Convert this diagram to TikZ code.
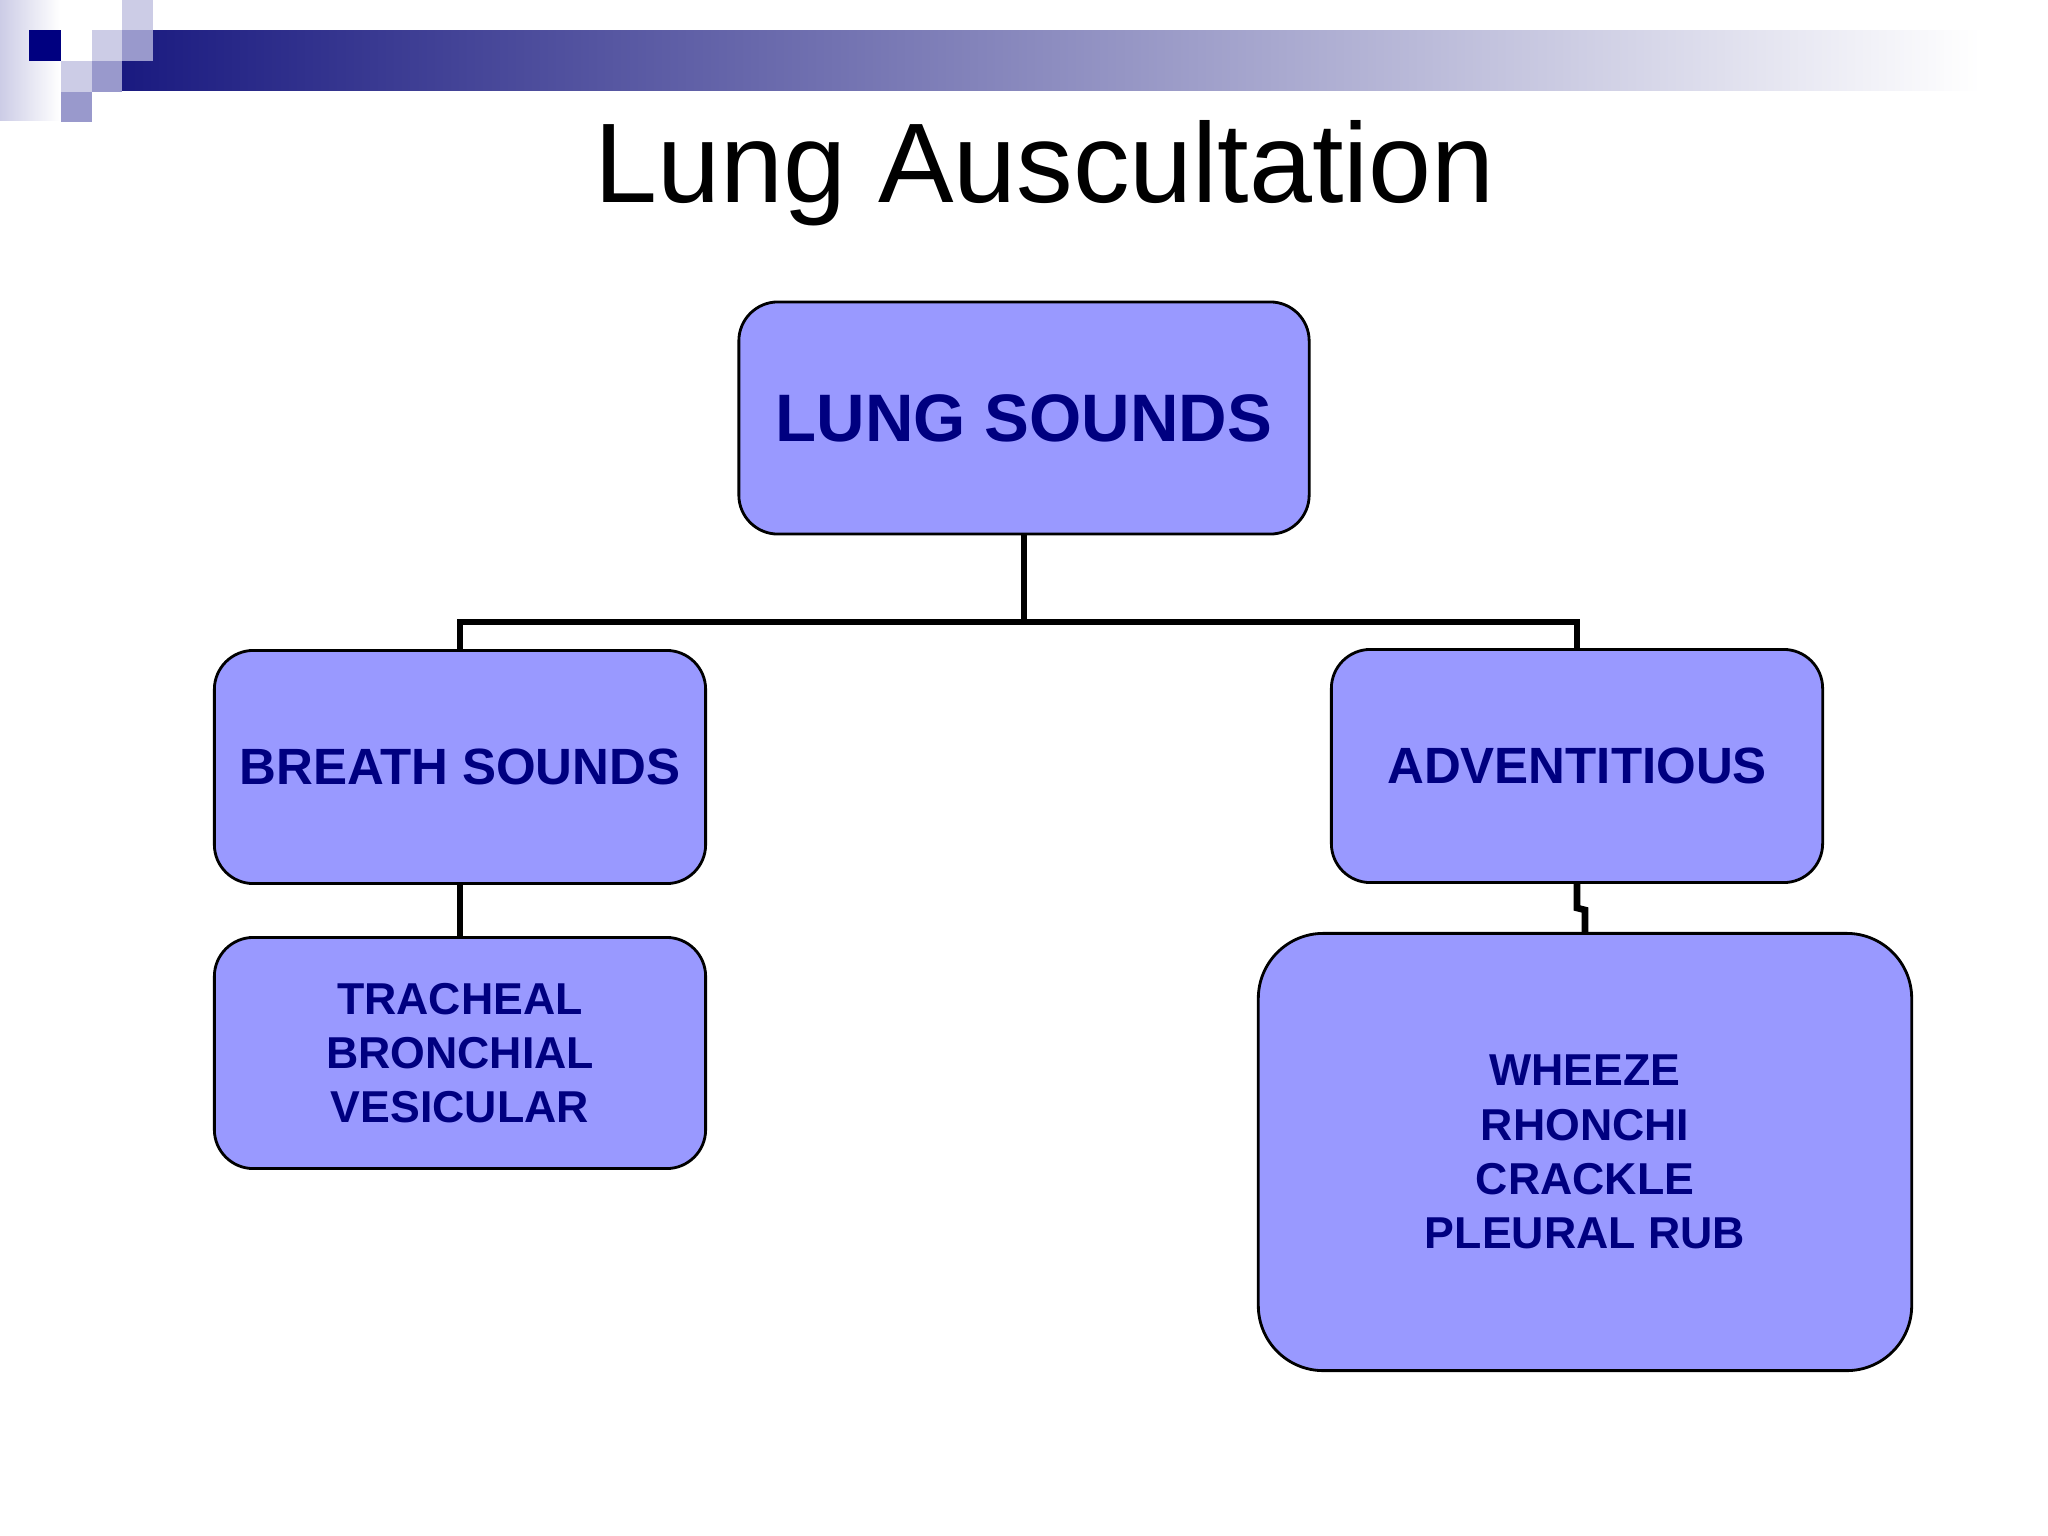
\documentclass[tikz,border=0pt]{standalone}
\usepackage{fontspec}
\setmainfont{Liberation Sans}
\usetikzlibrary{calc}
\definecolor{boxfill}{HTML}{9999FF}
\definecolor{boxtext}{HTML}{000080}
\definecolor{decodark}{HTML}{000080}
\definecolor{decomid}{HTML}{9999CC}
\definecolor{decolight}{HTML}{CCCCE6}
\definecolor{barnavy}{HTML}{1A1A80}

\begin{document}
\begin{tikzpicture}[
    x=0.01cm, y=-0.01cm,
    topic/.style  = {draw=black, line width=0.8pt, rounded corners=0.39cm,
                     fill=boxfill, text=boxtext, align=center, inner sep=0pt,
                     font=\fontsize{14.5}{17}\selectfont\bfseries},
    main/.style   = {topic, minimum width=5.70cm, minimum height=2.32cm,
                     font=\fontsize{19.1}{23}\selectfont\bfseries},
    side/.style   = {topic, minimum width=4.91cm, minimum height=2.33cm},
    sublist/.style = {topic, font=\fontsize{12.7}{15.4}\selectfont\bfseries},
    link/.style   = {line width=1.9pt, black},
]

% Fixed canvas with the slide's proportions
\useasboundingbox (0,0) rectangle (2048,1536);

% --- slide decoration (squares and fading bar) ---------------------------
\shade[left color=decolight, right color=white] (0,0) rectangle (60,120);
\shade[left color=barnavy, right color=white] (122,30) rectangle (1980,90);
\fill[decolight] (122,0) rectangle (153,30);
\fill[decolight] (92,30) rectangle (122,61);
\fill[decomid]   (122,30) rectangle (153,61);
\fill[decodark]  (29,30) rectangle (61,61);
\fill[decolight] (61,61) rectangle (92,92);
\fill[decomid]   (92,61) rectangle (122,92);
\fill[decomid]   (61,92) rectangle (92,122);

% --- title ---------------------------------------------------------------
\node[font=\fontsize{32.2}{36}\selectfont, anchor=base] (title) at (1045,202)
      {Lung Auscultation};

% --- the boxes -----------------------------------------------------------
\node[main] (lungs)  at (1024,418) {LUNG SOUNDS};
\node[side] (breath) at (460,767)  {BREATH SOUNDS};
\node[side] (advent) at (1577,766) {ADVENTITIOUS};
\node[sublist, minimum width=4.91cm, minimum height=2.31cm]
      (breathlist) at (460,1053) {TRACHEAL\\BRONCHIAL\\VESICULAR};
\node[sublist, minimum width=6.53cm, minimum height=4.37cm,
      rounded corners=0.65cm]
      (adventlist) at (1585,1152) {WHEEZE\\RHONCHI\\CRACKLE\\PLEURAL RUB};

% --- connectors ----------------------------------------------------------
\coordinate (split) at (1024,622);
\draw[link] (lungs.south) -- (split);
\draw[link] (breath.north) |- (split) -| (advent.north);
\draw[link] (breath.south) -- (breathlist.north);
\draw[link] (advent.south) -- ++(0,24)
      -- ($(adventlist.north)+(0,-22)$) -- (adventlist.north);

\end{tikzpicture}
\end{document}
